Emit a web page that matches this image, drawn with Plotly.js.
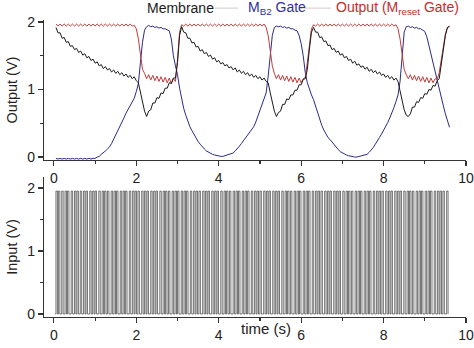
<!DOCTYPE html>
<html><head><meta charset="utf-8">
<script src="https://cdn.plot.ly/plotly-3.0.1.min.js"></script>
<style>html,body{margin:0;padding:0;background:#fff}#chart{width:474px;height:348px}</style>
</head><body><div id="chart"></div>
<script>
// sampling interval of the top-panel traces (s); first sample at 0.05 s
const sampleStep = 0.05;

const membrane = [
  1.92,1.84,1.84,1.76,1.77,1.70,1.71,1.64,1.65,1.59,
  1.61,1.55,1.57,1.51,1.53,1.47,1.49,1.43,1.45,1.39,
  1.41,1.35,1.37,1.31,1.34,1.29,1.31,1.26,1.29,1.24,
  1.27,1.22,1.25,1.20,1.23,1.18,1.21,1.16,1.19,1.13,
  1.10,0.95,0.80,0.68,0.60,0.68,0.70,0.80,0.80,0.88,
  0.87,0.95,0.94,1.02,1.02,1.10,1.09,1.17,1.17,1.40,
  1.80,1.93,1.85,1.84,1.76,1.76,1.69,1.70,1.63,1.64,
  1.57,1.59,1.53,1.55,1.49,1.51,1.45,1.47,1.41,1.43,
  1.38,1.40,1.35,1.37,1.32,1.34,1.29,1.32,1.26,1.29,
  1.24,1.27,1.22,1.25,1.20,1.23,1.18,1.21,1.16,1.19,
  1.14,1.17,1.12,1.10,0.95,0.80,0.68,0.60,0.66,0.68,
  0.78,0.78,0.86,0.85,0.92,0.92,0.99,0.99,1.07,1.07,
  1.15,1.16,1.30,1.60,1.85,1.92,1.85,1.85,1.77,1.78,
  1.71,1.72,1.65,1.66,1.59,1.61,1.55,1.57,1.51,1.53,
  1.47,1.49,1.43,1.45,1.39,1.42,1.36,1.38,1.33,1.35,
  1.30,1.33,1.27,1.30,1.25,1.28,1.23,1.26,1.21,1.23,
  1.18,1.21,1.16,1.19,1.14,1.17,1.12,0.98,0.84,0.70,
  0.62,0.60,0.64,0.74,0.74,0.82,0.81,0.88,0.87,0.94,
  0.93,1.00,0.99,1.06,1.05,1.13,1.16,1.35,1.60,1.80,
  1.92,1.94
];

const gateMB2 = [
  -0.02,-0.03,-0.02,-0.03,-0.02,-0.03,-0.02,-0.03,-0.02,-0.03,
  -0.02,-0.03,-0.02,-0.03,-0.02,-0.03,-0.02,-0.03,-0.02,-0.02,
  0.00,0.01,0.04,0.06,0.09,0.12,0.15,0.20,0.26,0.32,
  0.39,0.45,0.52,0.58,0.65,0.71,0.76,0.81,0.87,0.97,
  1.09,1.40,1.70,1.88,1.93,1.95,1.93,1.94,1.92,1.93,
  1.91,1.92,1.90,1.90,1.88,1.87,1.75,1.50,1.35,1.22,
  1.02,0.84,0.72,0.62,0.53,0.45,0.39,0.33,0.28,0.23,
  0.19,0.15,0.12,0.09,0.07,0.05,0.04,0.03,0.02,0.01,
  0.01,0.01,0.02,0.03,0.04,0.05,0.06,0.09,0.12,0.16,
  0.20,0.24,0.28,0.32,0.37,0.41,0.45,0.52,0.60,0.68,
  0.76,0.84,0.95,1.20,1.52,1.80,1.92,1.94,1.93,1.94,
  1.92,1.93,1.91,1.92,1.90,1.90,1.88,1.87,1.80,1.68,
  1.50,1.25,1.10,1.00,0.92,0.85,0.75,0.65,0.55,0.47,
  0.40,0.34,0.29,0.26,0.22,0.18,0.14,0.11,0.08,0.06,
  0.04,0.03,0.02,0.01,0.00,0.00,0.00,0.01,0.01,0.02,
  0.03,0.04,0.07,0.10,0.14,0.19,0.25,0.29,0.34,0.39,
  0.45,0.51,0.58,0.65,0.73,0.82,0.92,1.12,1.50,1.85,
  1.93,1.94,1.92,1.93,1.91,1.92,1.90,1.90,1.88,1.86,
  1.78,1.65,1.50,1.38,1.25,1.12,1.00,0.87,0.76,0.64,
  0.53,0.44
];

const outputReset = [
  1.97,1.94,1.97,1.94,1.97,1.94,1.97,1.94,1.97,1.94,
  1.97,1.94,1.97,1.94,1.97,1.94,1.97,1.94,1.97,1.94,
  1.97,1.94,1.97,1.94,1.97,1.94,1.97,1.94,1.97,1.94,
  1.97,1.94,1.97,1.94,1.97,1.94,1.97,1.94,1.95,1.90,
  1.75,1.50,1.30,1.24,1.16,1.22,1.14,1.21,1.13,1.20,
  1.12,1.19,1.11,1.18,1.10,1.17,1.09,1.16,1.12,1.45,
  1.85,1.96,1.94,1.97,1.94,1.97,1.94,1.97,1.94,1.97,
  1.94,1.97,1.94,1.97,1.94,1.97,1.94,1.97,1.94,1.97,
  1.94,1.97,1.94,1.97,1.94,1.97,1.94,1.97,1.94,1.97,
  1.94,1.97,1.94,1.97,1.94,1.97,1.94,1.97,1.94,1.97,
  1.94,1.97,1.92,1.80,1.55,1.35,1.24,1.16,1.22,1.14,
  1.21,1.13,1.20,1.12,1.19,1.11,1.18,1.10,1.17,1.10,
  1.16,1.18,1.40,1.70,1.90,1.96,1.94,1.97,1.94,1.97,
  1.94,1.97,1.94,1.97,1.94,1.97,1.94,1.97,1.94,1.97,
  1.94,1.97,1.94,1.97,1.94,1.97,1.94,1.97,1.94,1.97,
  1.94,1.97,1.94,1.97,1.94,1.97,1.94,1.97,1.94,1.97,
  1.94,1.97,1.94,1.97,1.94,1.96,1.90,1.75,1.50,1.30,
  1.22,1.16,1.22,1.14,1.21,1.13,1.20,1.12,1.19,1.11,
  1.18,1.10,1.17,1.10,1.16,1.15,1.25,1.45,1.65,1.82,
  1.92,1.93
];

// input spike train: rising-edge times (s)
const inputPulseStarts = [
  0.05,0.11,0.19,0.27,0.33,0.42,0.50,0.56,0.64,0.72,0.78,0.87,0.94,1.00,1.09,1.17,1.23,1.30,1.39,1.46,
  1.52,1.61,1.68,1.74,1.83,1.91,1.97,2.04,2.13,2.20,2.26,2.35,2.42,2.48,2.57,2.65,2.71,2.78,2.87,2.94,
  3.00,3.09,3.16,3.22,3.31,3.39,3.45,3.52,3.61,3.68,3.74,3.83,3.90,3.96,4.05,4.13,4.19,4.26,4.35,4.42,
  4.48,4.57,4.64,4.70,4.79,4.87,4.93,5.00,5.09,5.16,5.22,5.31,5.38,5.44,5.53,5.61,5.67,5.74,5.83,5.90,
  5.96,6.05,6.12,6.18,6.27,6.35,6.41,6.48,6.57,6.64,6.70,6.79,6.86,6.92,7.01,7.09,7.15,7.22,7.31,7.38,
  7.44,7.53,7.60,7.66,7.75,7.83,7.89,7.96,8.05,8.12,8.18,8.27,8.34,8.40,8.49,8.57,8.63,8.70,8.79,8.86,
  8.92,9.01,9.08,9.14,9.23,9.31,9.37,9.44,9.53
];
const inputHigh = 1.95;   // V
const inputLow = 0.0;     // V
const pulseWidth = 0.035; // s

const xTickVals = [0, 2, 4, 6, 8, 10];
const xMinorVals = [1, 3, 5, 7, 9];
const yTickVals = [0, 1, 2];
const yMinorVals = [0.5, 1.5];
const legendNames = ['Membrane', 'M<sub>B2</sub> Gate', 'Output (M<sub>reset</sub> Gate)'];
const yTitles = ['Output (V)', 'Input (V)'];
const xTitle = 'time (s)';

const colors = {membrane: '#1a1a1a', gate: '#2a2a88', output: '#c23a3a', input: '#3a3a3a',
                legGate: '#2f2fa0', legOut: '#c82a2a'};

const tGrid = membrane.map((_, i) => +((i + 1) * sampleStep).toFixed(2));

const inX = [inputPulseStarts[0] - 0.02], inY = [inputLow];
inputPulseStarts.forEach(s => {
  inX.push(s, s, s + pulseWidth, s + pulseWidth);
  inY.push(inputLow, inputHigh, inputHigh, inputLow);
});

const traces = [
  {x: tGrid, y: gateMB2, type: 'scatter', mode: 'lines', line: {color: colors.gate, width: 1}, xaxis: 'x', yaxis: 'y', name: legendNames[1]},
  {x: tGrid, y: outputReset, type: 'scatter', mode: 'lines', line: {color: colors.output, width: 1}, xaxis: 'x', yaxis: 'y', name: legendNames[2]},
  {x: tGrid, y: membrane, type: 'scatter', mode: 'lines', line: {color: colors.membrane, width: 1}, xaxis: 'x', yaxis: 'y', name: legendNames[0]},
  {x: inX, y: inY, type: 'scatter', mode: 'lines', line: {color: colors.input, width: 0.7}, xaxis: 'x2', yaxis: 'y2', name: 'Input'}
];

const fontFam = '"Liberation Sans", Arial, sans-serif';
const axCommon = {
  showline: true, linecolor: '#333', linewidth: 1.2, showgrid: false, zeroline: false,
  ticks: 'outside', tickcolor: '#333', tickwidth: 1.2,
  tickfont: {family: fontFam, size: 14, color: '#222'}
};
const xAx = (anchor) => Object.assign({}, axCommon, {
  anchor: anchor, domain: [0, 1], range: [-0.24, 10], tickvals: xTickVals, ticktext: xTickVals.map(String), ticklen: 5,
  minor: {tickvals: xMinorVals, ticks: 'outside', ticklen: 3, tickcolor: '#333', tickwidth: 1.2}
});
const yAx = (anchor, domain, range, title) => Object.assign({}, axCommon, {
  anchor: anchor, domain: domain, range: range, tickvals: yTickVals, ticktext: yTickVals.map(String), ticklen: 5,
  minor: {tickvals: yMinorVals, ticks: 'outside', ticklen: 3, tickcolor: '#333', tickwidth: 1.2},
  title: {text: title, font: {family: fontFam, size: 14.5, color: '#222'}, standoff: 6}
});

const legY = 1.04;
const layout = {
  width: 474, height: 348,
  margin: {l: 44, r: 8, t: 20, b: 31, pad: 0},
  paper_bgcolor: '#fff', plot_bgcolor: '#fff',
  showlegend: false,
  font: {family: fontFam, size: 14, color: '#222'},
  xaxis: xAx('y'),
  yaxis: yAx('x', [0.5286, 1], [-0.044, 2.03], yTitles[0]),
  xaxis2: xAx('y2'),
  yaxis2: yAx('x2', [0, 0.4714], [-0.048, 2.174], yTitles[1]),
  annotations: [
    {xref: 'paper', yref: 'paper', x: 0.2393, y: legY, xanchor: 'left', yanchor: 'middle', showarrow: false,
     text: legendNames[0], font: {family: fontFam, size: 14, color: '#1a1a1a'}},
    {xref: 'paper', yref: 'paper', x: 0.4775, y: legY, xanchor: 'left', yanchor: 'middle', showarrow: false,
     text: legendNames[1], font: {family: fontFam, size: 14, color: colors.legGate}},
    {xref: 'paper', yref: 'paper', x: 0.6872, y: legY, xanchor: 'left', yanchor: 'middle', showarrow: false,
     text: legendNames[2], font: {family: fontFam, size: 14, color: colors.legOut}},
    {xref: 'paper', yref: 'paper', x: 0.526, y: -0.0404, xanchor: 'center', yanchor: 'middle', showarrow: false,
     text: xTitle, font: {family: fontFam, size: 15, color: '#222'}}
  ],
  shapes: [
    {type: 'line', xref: 'paper', yref: 'paper', x0: 0.4052, x1: 0.4597, y0: legY, y1: legY, line: {color: '#c9c9d6', width: 1}},
    {type: 'line', xref: 'paper', yref: 'paper', x0: 0.6043, x1: 0.6801, y0: legY, y1: legY, line: {color: '#d6c9c9', width: 1}}
  ]
};

Plotly.newPlot('chart', traces, layout, {staticPlot: true, displayModeBar: false});
</script>
</body></html>
